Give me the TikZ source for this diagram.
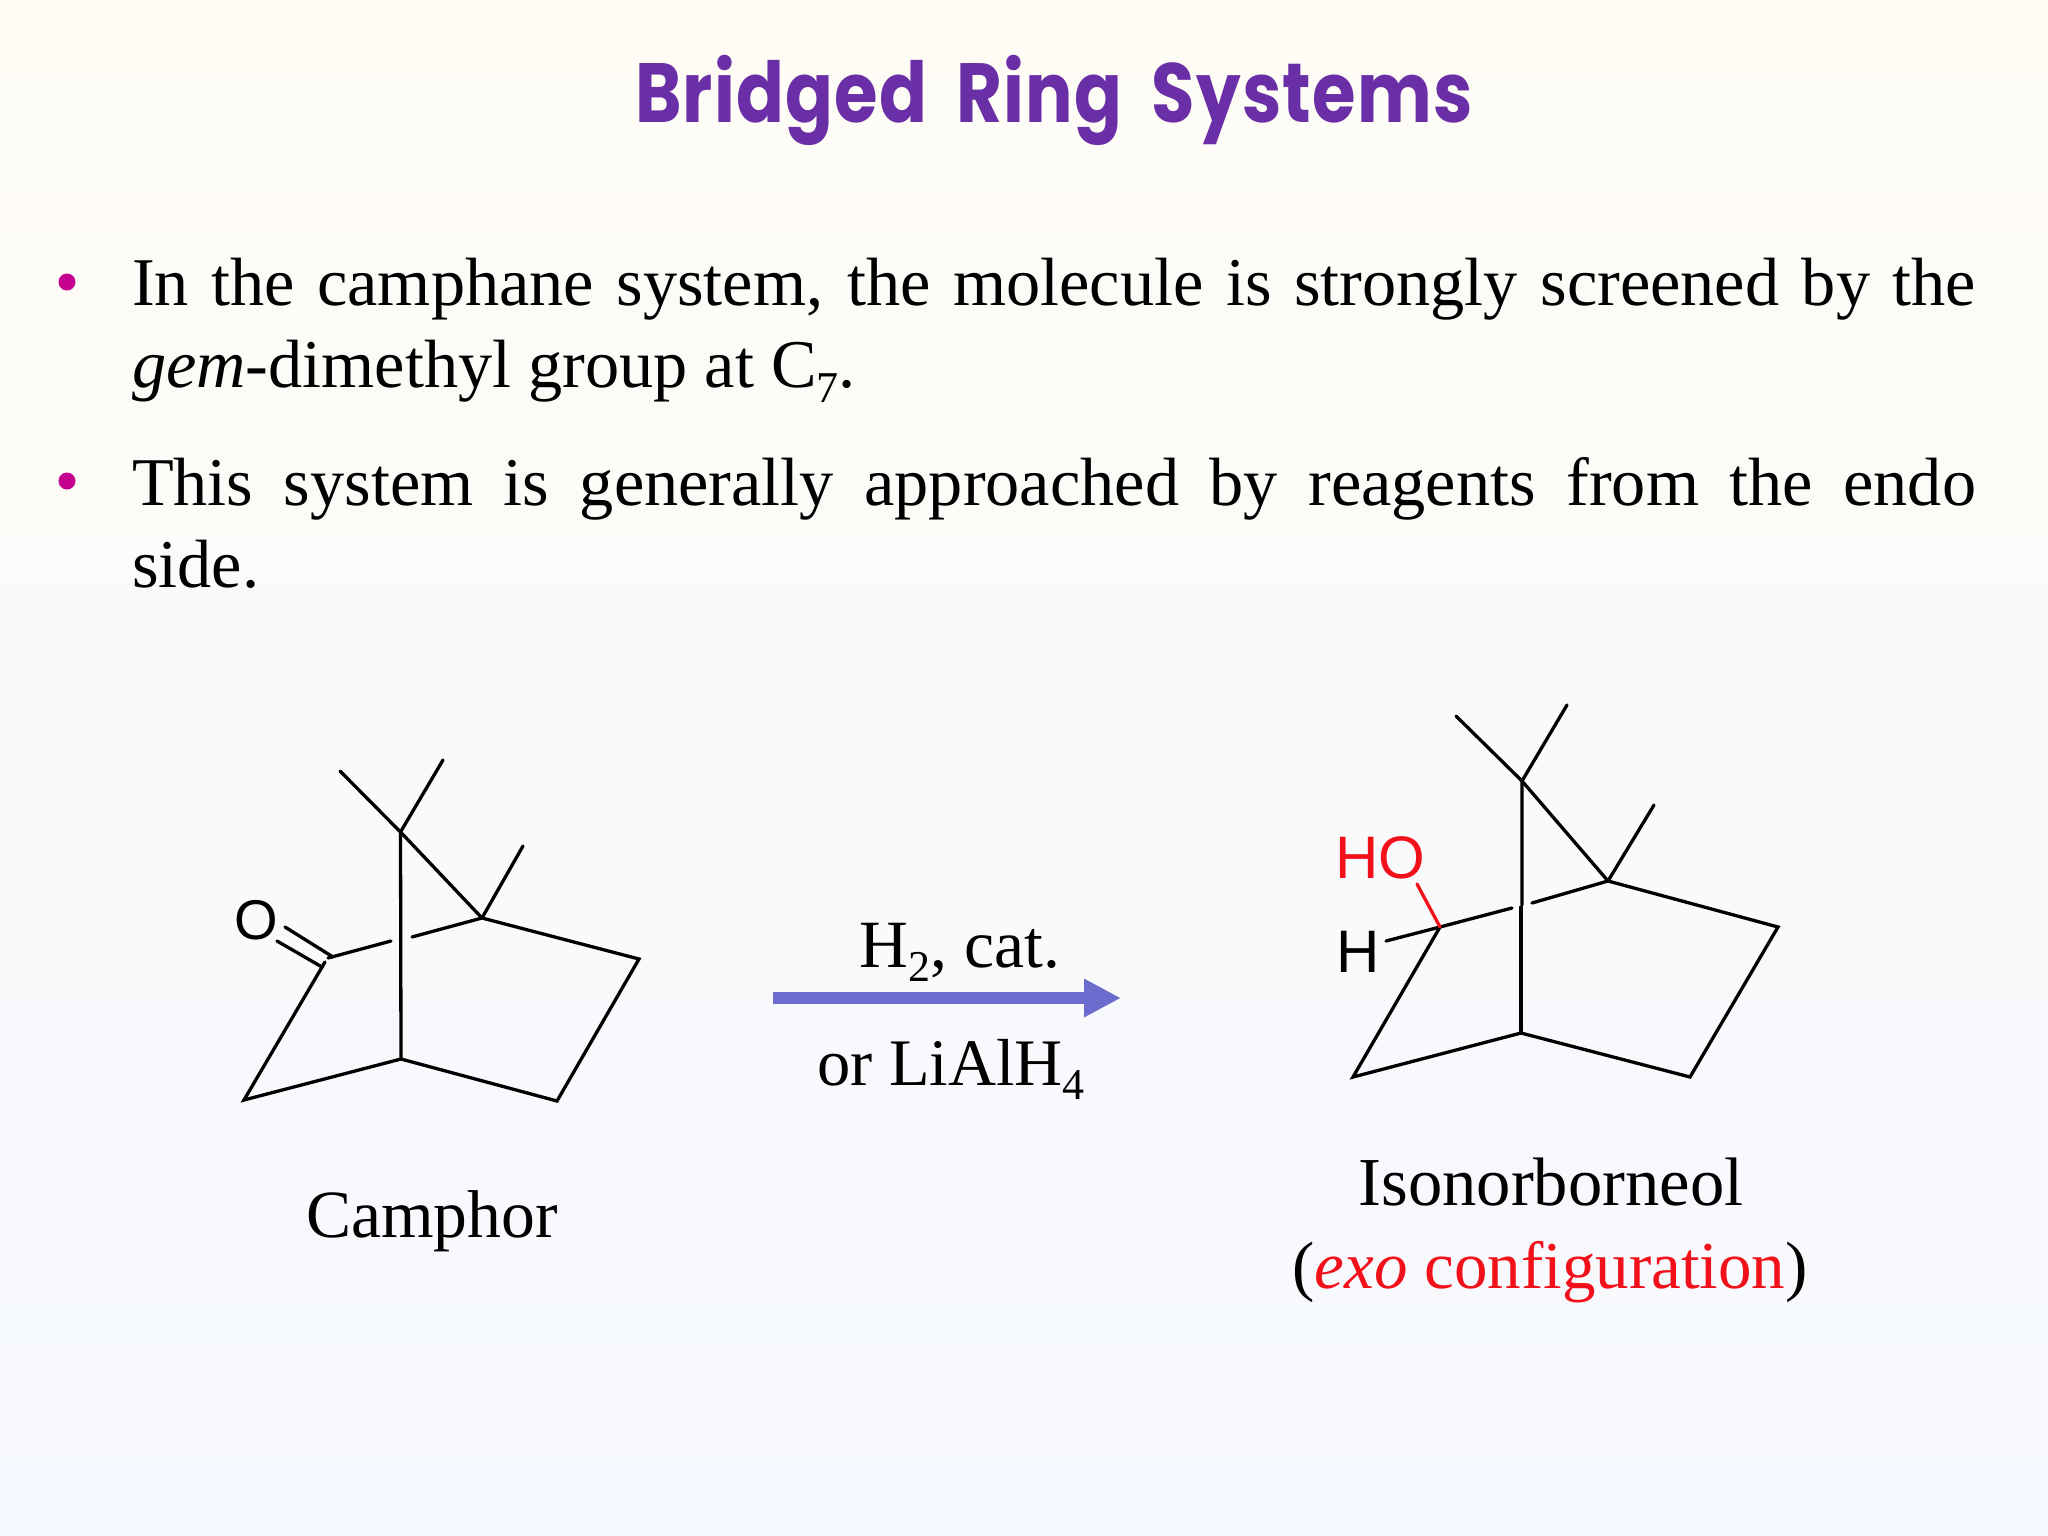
\documentclass[tikz,border=0pt]{standalone}
\usepackage{fontspec}
\usetikzlibrary{arrows.meta}
\setmainfont{Liberation Serif}
\newfontfamily\titlefont{Poppins}[FakeStretch=0.84,LetterSpace=1.5,WordSpace=1.8]
\newfontfamily\atomfont{Liberation Sans}
\definecolor{bgtop}{HTML}{FFFCF5}
\definecolor{bgbot}{HTML}{F5F8FF}
\definecolor{titlecol}{HTML}{6A2FA6}
\definecolor{bulletcol}{HTML}{C4008F}
\definecolor{arrowcol}{HTML}{6C6CCE}
\definecolor{redtxt}{HTML}{F2101A}
\newcommand{\subsc}[1]{\raisebox{-0.22em}{\fontsize{44}{44}\selectfont #1}}
\tikzset{
  x=1pt,y=-1pt,
  bond/.style={line width=3.3pt,black,line cap=round,line join=miter},
  body/.style={inner sep=0pt,outer sep=0pt,font=\fontsize{68.3}{82}\selectfont},
  para/.style={body,anchor=north west,text width=1844pt,align=justify},
  lab/.style={inner sep=0pt,outer sep=0pt,anchor=base,font=\fontsize{67.6}{82}\selectfont},
  atomlab/.style={inner sep=0pt,outer sep=0pt,anchor=base west,font=\atomfont\fontsize{60}{60}\selectfont},
  bul/.style={circle,fill=bulletcol,minimum size=17pt,inner sep=0pt,outer sep=0pt},
}
\begin{document}
\begin{tikzpicture}
\useasboundingbox (0,0) rectangle (2048,1536);
\shade[top color=bgtop,bottom color=bgbot] (0,0) rectangle (2048,1536);

\node[inner sep=0pt,anchor=base,text=titlecol,font=\titlefont\bfseries\fontsize{84}{84}\selectfont] (title) at (1054,123) {Bridged Ring Systems};

\node[bul] (b1) at (67,282) {};
\node[bul] (b2) at (67,481) {};
\node[para] (p1) at (132,258) {\hyphenpenalty=10000 In the camphane system, the molecule is strongly screened by the \textit{gem}-dimethyl group at C\subsc{7}.};
\node[para] (p2) at (132,457) {\hyphenpenalty=10000 This system is generally approached by reagents from the endo\linebreak side.};

% Camphor
\coordinate (a7) at (400.5,832);
\coordinate (am1) at (340,771);
\coordinate (am2) at (443,760);
\coordinate (a1) at (482,918);
\coordinate (am3) at (523,846);
\coordinate (art) at (639,959);
\coordinate (arb) at (557,1101);
\coordinate (a4) at (401,1059);
\coordinate (alb) at (244,1100);
\coordinate (a2) at (328,958);
\coordinate (a2b) at (325,962);
\coordinate (ag1) at (391,941);
\coordinate (ag2) at (412,937);
\coordinate (ao1s) at (285,927);
\coordinate (ao1e) at (333,957);
\coordinate (ao2s) at (277,941);
\coordinate (ao2e) at (322,967);
\draw[bond] (am1) -- (a7) -- (a1) -- (art) -- (arb) -- (a4) -- (alb) -- (a2b);
\draw[bond] (am2) -- (a7) -- (a4);
\draw[bond] (am3) -- (a1) -- (ag2);
\draw[bond] (a2) -- (ag1);
\draw[bond] (ao1s) -- (ao1e);
\draw[bond] (ao2s) -- (ao2e);
\node[atomlab,font=\atomfont\fontsize{56}{56}\selectfont] (oxy) at (234,939) {O};
\node[lab] (camphor) at (432,1237) {Camphor};

% Arrow
\coordinate (ars) at (773,998);
\coordinate (are) at (1121,998);
\draw[line width=12.5pt,arrowcol,-{Triangle[length=37pt,width=36pt]}] (ars) -- (are);
\node[lab] (reag1) at (960,967) {H\subsc{2}, cat.};
\node[lab,font=\fontsize{66.5}{82}\selectfont] (reag2) at (951,1085) {or LiAlH\subsc{4}};

% Isonorborneol
\coordinate (c7) at (1522,781);
\coordinate (cm1) at (1456,716);
\coordinate (cm2) at (1567,705);
\coordinate (c1) at (1608,881);
\coordinate (cm3) at (1654,805);
\coordinate (crt) at (1778,927);
\coordinate (crb) at (1690,1077);
\coordinate (c4) at (1521,1033);
\coordinate (clb) at (1353,1077);
\coordinate (c2) at (1440,927);
\coordinate (cg1) at (1512,908);
\coordinate (cg2) at (1532,903);
\coordinate (cv1) at (1522,905);
\coordinate (cv2) at (1521,907);
\coordinate (chb) at (1386,941);
\coordinate (cob) at (1417,884);
\draw[bond] (cm1) -- (c7) -- (c1) -- (crt) -- (crb) -- (c4) -- (clb) -- (c2) -- (cg1);
\draw[bond] (cm2) -- (c7) -- (cv1);
\draw[bond] (cv2) -- (c4);
\draw[bond] (cm3) -- (c1) -- (cg2);
\draw[bond] (chb) -- (c2);
\draw[bond,redtxt] (cob) -- (c2);
\node[atomlab,text=redtxt] (ho) at (1335,878) {HO};
\node[atomlab] (hh) at (1336,972) {H};
\node[lab,font=\fontsize{68.6}{82}\selectfont] (iso) at (1551,1205) {Isonorborneol};
\node[lab,font=\fontsize{67}{82}\selectfont] (cfg) at (1550,1288) {(\textcolor{redtxt}{\textit{exo} configuration})};
\end{tikzpicture}
\end{document}
